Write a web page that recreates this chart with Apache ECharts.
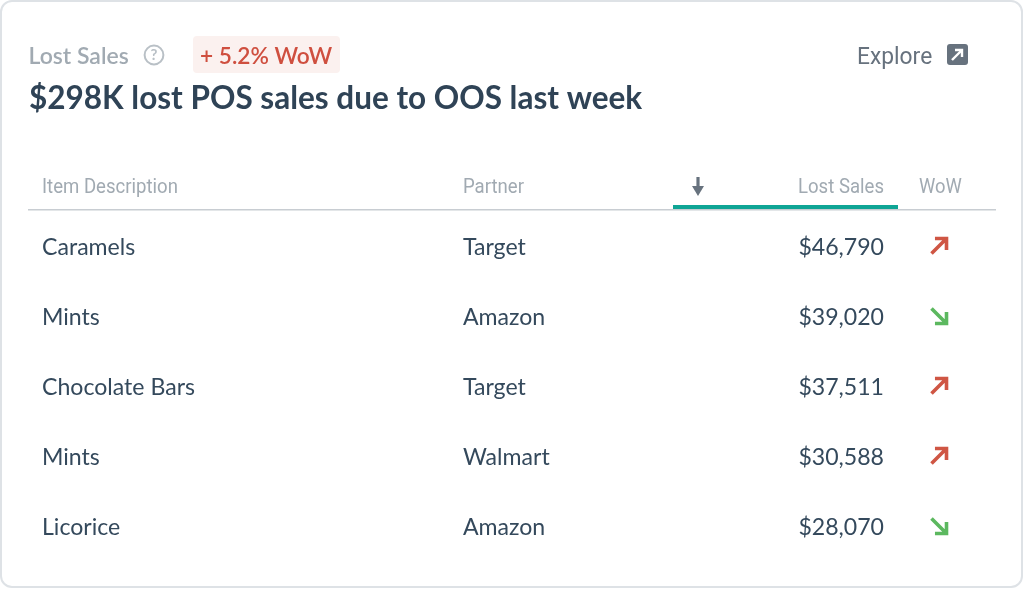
<!DOCTYPE html>
<html><head><meta charset="utf-8">
<style>html,body{margin:0;padding:0;background:#fff}#c{width:1024px;height:589px}</style>
<script src="https://cdn.jsdelivr.net/npm/echarts@6/dist/echarts.min.js"></script>
</head><body><div id="c"></div>
<script>
const items = ['Caramels','Mints','Chocolate Bars','Mints','Licorice'];
const partners = ['Target','Amazon','Target','Walmart','Amazon'];
const lostSales = [46790,39020,37511,30588,28070];
const wow = ['up','down','up','up','down'];
const headers = ['Item Description','Partner','Lost Sales','WoW'];
const kicker = 'Lost Sales';
const badge = '+ 5.2% WoW';
const headline = '$298K lost POS sales due to OOS last week';
const explore = 'Explore';

const INK='#34495c', MUTED='#a1aab2', RED='#cf5644', GREEN='#5cb85f';
const COL={item:42,partner:463,sales:884,wow:939};
const arrowPath='path://M1 15 L14 2 M4 2 L14 2 L14 12';
const fmt=v=>'$'+v.toLocaleString('en-US');
const textSeries=(name,x,vals,align)=>({
  name,type:'scatter',symbolSize:0,silent:true,itemStyle:{opacity:1},
  data:vals.map((v,i)=>({value:[x,i],raw:v})),
  label:{show:true,position:'inside',align,verticalAlign:'middle',offset:[0,1],
    formatter:p=>p.data.raw,fontFamily:'Lato',fontSize:23.1,color:INK}
});
const t=(text,x,y,font,fill,extra,sx)=>({type:'text',x,y,silent:true,scaleX:sx||1,
  style:Object.assign({text,font,fill,verticalAlign:'middle'},extra||{})});

const chart=echarts.init(document.getElementById('c'),null,{renderer:'canvas'});
chart.setOption({
  animation:false,backgroundColor:'#fff',
  grid:{left:0,top:212,width:1024,height:350},
  xAxis:{type:'value',min:0,max:1024,show:false},
  yAxis:{type:'category',inverse:true,show:false,data:items.map((_,i)=>i)},
  series:[
    textSeries('Item',COL.item,items,'left'),
    textSeries('Partner',COL.partner,partners,'left'),
    textSeries('Lost Sales',COL.sales,lostSales.map(fmt),'right'),
    {name:'WoW',type:'scatter',silent:true,symbol:arrowPath,symbolSize:[15,15],
     data:wow.map((d,i)=>({value:[COL.wow,i],symbolRotate:d==='up'?0:-90,symbolOffset:[0,-1],
       itemStyle:{opacity:1,color:'rgba(0,0,0,0)',borderColor:d==='up'?RED:GREEN,borderWidth:3.6}}))}
  ],
  graphic:[
    {type:'rect',silent:true,shape:{x:1,y:1,width:1021,height:586,r:11},style:{fill:'#fff',stroke:'#dee2e6',lineWidth:2},z:-10},
    t(kicker,28.5,57,'600 23px Lato',MUTED),
    {type:'circle',silent:true,shape:{cx:154,cy:55,r:9.4},style:{fill:'none',stroke:'#b9c0c6',lineWidth:2}},
    t('?',154,55.5,'700 15px Lato','#b9c0c6',{align:'center'}),
    {type:'rect',silent:true,shape:{x:193,y:36,width:147,height:37,r:4},style:{fill:'#fbf1ef'}},
    t(badge,200,57,'600 22.7px Lato','#cf4f3f'),
    t(headline,29,98.5,'700 31.5px Lato','#2f4356'),
    t(explore,857,58,'400 24px Roboto','#67727e',null,0.95),
    {type:'rect',silent:true,shape:{x:947,y:44,width:21,height:21,r:3},style:{fill:'#67727e'}},
    {type:'polyline',silent:true,shape:{points:[[952,60],[962,50]]},style:{stroke:'#fff',lineWidth:2.4,fill:'none'}},
    {type:'polyline',silent:true,shape:{points:[[955,50],[962,50],[962,57]]},style:{stroke:'#fff',lineWidth:2.4,fill:'none'}},
    t(headers[0],42,188,'400 21px Roboto',MUTED,null,0.885),
    t(headers[1],463,188,'400 21px Roboto',MUTED,null,0.885),
    t(headers[2],884,188,'400 21px Roboto',MUTED,{align:'right'},0.885),
    t(headers[3],919,188,'400 21px Roboto',MUTED,null,0.875),
    {type:'polyline',silent:true,shape:{points:[[698,177],[698,190]]},style:{stroke:'#67727e',lineWidth:3.2,fill:'none'}},
    {type:'polygon',silent:true,shape:{points:[[692,186],[704,186],[698,196]]},style:{fill:'#67727e'}},
    {type:'rect',silent:true,shape:{x:28,y:209,width:968,height:1.6},style:{fill:'#c8cdd2'}},
    {type:'rect',silent:true,shape:{x:673,y:205,width:225,height:4},style:{fill:'#0fa595'}}
  ]
});
</script></body></html>
